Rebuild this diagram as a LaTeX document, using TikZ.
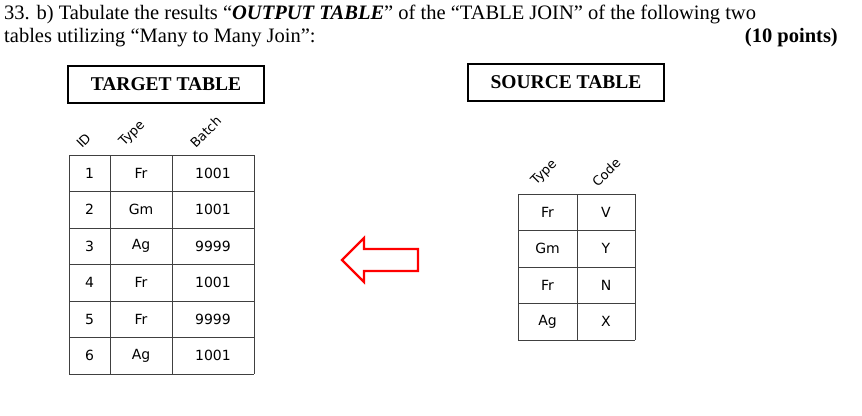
\documentclass[tikz,border=0pt]{standalone}
\usepackage{fontspec}
\setmainfont{Liberation Serif}
\newfontfamily\cf{DejaVu Sans}
\begin{document}
\begin{tikzpicture}[x=1pt,y=-1pt,
  hd/.style={font=\fontsize{20.5}{24}\selectfont,anchor=west,inner sep=0},
  ttl/.style={draw,line width=2pt,minimum width=196pt,minimum height=37pt,font=\bfseries\fontsize{19.5}{22}\selectfont},
  cell/.style={font=\cf\fontsize{14}{16}\selectfont},
  colh/.style={font=\cf\fontsize{13}{15}\selectfont,rotate=45,anchor=south west,inner sep=0pt},
  grid/.style={draw=black!75,line width=1pt}]
\useasboundingbox (0,0) rectangle (862,415);
\node[hd] (l1) at (4,14) {33. b) Tabulate the results “\textbf{\textit{OUTPUT TABLE}}” of the “TABLE JOIN” of the following two};
\node[hd] (l2) at (4,38) {tables utilizing “Many to Many Join”:};
\node[hd,anchor=east] (pts) at (838,38) {\textbf{(10 points)}};
\node[ttl] (tt) at (166,84.5) {TARGET TABLE};
\node[ttl] (st) at (566,82.5) {SOURCE TABLE};
% target table
\foreach \y in {155,191.5,228,264.5,301,337.5,374} \draw[grid] (69,\y) -- (254,\y);
\foreach \x in {69,110,172,254} \draw[grid] (\x,155) -- (\x,374);
\node[colh] (h1) at (82,149) {ID};
\node[colh] (h2) at (126,149) {Type};
\node[colh] (h3) at (196,149) {Batch};
\foreach \i/\t/\b [count=\n] in {1/Fr/1001,2/Gm/1001,3/Ag/9999,4/Fr/1001,5/Fr/9999,6/Ag/1001}{
  \pgfmathsetmacro\yy{155+36.5*(\n-0.5)}
  \node[cell] (ti\n) at (89.5,\yy) {\i};
  \node[cell] (tt\n) at (141,\yy) {\t};
  \node[cell] (tb\n) at (213,\yy) {\b};
}
% source table
\foreach \y in {194,230.5,267,303.5,340} \draw[grid] (518,\y) -- (635,\y);
\foreach \x in {518,577,635} \draw[grid] (\x,194) -- (\x,340);
\node[colh] (s1) at (538,188) {Type};
\node[colh] (s2) at (598,188) {Code};
\foreach \t/\c [count=\n] in {Fr/V,Gm/Y,Fr/N,Ag/X}{
  \pgfmathsetmacro\yy{194+36.5*(\n-0.5)}
  \node[cell] (sa\n) at (547.5,\yy) {\t};
  \node[cell] (sb\n) at (606,\yy) {\c};
}
% arrow
\draw[red,line width=2.2pt,line join=miter] (342,260) -- (364,238) -- (364,249) -- (418,249) -- (418,271) -- (364,271) -- (364,282) -- cycle;
\end{tikzpicture}
\end{document}
